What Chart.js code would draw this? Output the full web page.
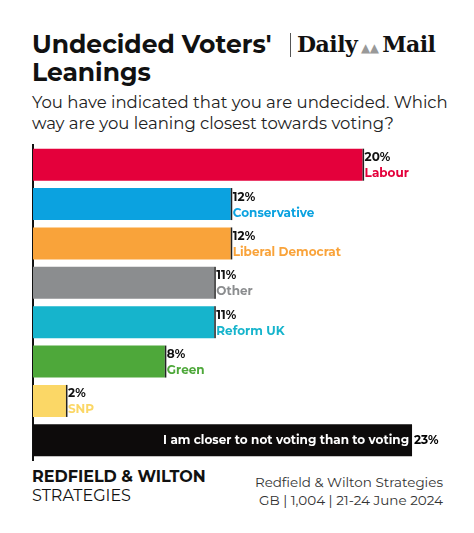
<!DOCTYPE html>
<html><head><meta charset="utf-8">
<script src="https://cdn.jsdelivr.net/npm/chart.js@4"></script>
<style>
body{margin:0;width:474px;height:533px;background:#fff;font-family:"Montserrat","Inter","Noto Sans",sans-serif;position:relative;overflow:hidden;color:#111}
.t{position:absolute;white-space:nowrap}
</style></head><body>
<div class="t" style="left:32px;top:30px;font-size:25px;font-weight:700;line-height:28px">Undecided Voters'<br>Leanings</div>
<div class="t" style="left:290px;top:33px;height:24px;border-left:1.5px solid #555"></div>
<div class="t" style="left:297px;top:31px;font-family:'DejaVu Serif',serif;font-size:22px;font-weight:700;letter-spacing:-0.5px">Daily<span style="font-size:12px;color:#999"> ▲▲ </span>Mail</div>
<div class="t" style="left:32px;top:92px;font-size:16.5px;line-height:21px;color:#222">You have indicated that you are undecided. Which<br>way are you leaning closest towards voting?</div>
<div style="position:absolute;left:0;top:140px;width:474px;height:325px"><canvas id="c"></canvas></div>
<div class="t" style="left:32px;top:467px;font-size:16px;font-weight:700;line-height:19px">REDFIELD &amp; WILTON<br><span style="font-weight:400">STRATEGIES</span></div>
<div class="t" style="right:31px;top:473px;font-size:13.5px;line-height:18px;text-align:right;color:#333">Redfield &amp; Wilton Strategies<br>GB | 1,004 | 21-24 June 2024</div>
<script>
var parties = ['Labour','Conservative','Liberal Democrat','Other','Reform UK','Green','SNP','I am closer to not voting than to voting'];
var values = [20,12,12,11,11,8,2,23];
var colors = ['#e4003b','#0ba2e0','#f9a33a','#8b8d8f','#16b4cc','#4ea83a','#fbd766','#0d0b0b'];

var labelPlugin = {
  id: 'labels',
  afterDatasetsDraw: function(chart) {
    var ctx = chart.ctx;
    var meta = chart.getDatasetMeta(0);
    meta.data.forEach(function(bar, i) {
      ctx.save();
      ctx.font = 'bold 12px "Montserrat","Inter","Noto Sans",sans-serif';
      ctx.textBaseline = 'middle';
      if (i === parties.length - 1) {
        ctx.fillStyle = '#000';
        ctx.textAlign = 'left';
        ctx.fillText(values[i] + '%', bar.x + 2, bar.y);
        ctx.fillStyle = '#fff';
        ctx.textAlign = 'right';
        ctx.fillText(parties[i], bar.x - 3, bar.y);
      } else {
        ctx.fillStyle = '#222';
        ctx.fillRect(bar.x, bar.y - 16, 1.5, 32);
        ctx.textAlign = 'left';
        ctx.fillStyle = '#111';
        ctx.fillText(values[i] + '%', bar.x + 2, bar.y - 7);
        ctx.fillStyle = colors[i];
        ctx.fillText(parties[i], bar.x + 2, bar.y + 9);
      }
      ctx.restore();
    });
  }
};

new Chart(document.getElementById('c'), {
  type: 'bar',
  data: { labels: parties, datasets: [{ data: values, backgroundColor: colors, barPercentage: 0.81, categoryPercentage: 1 }] },
  options: {
    indexAxis: 'y', responsive: true, maintainAspectRatio: false, animation: false,
    layout: { padding: { left: 25, top: 5, bottom: 5, right: 29 } },
    plugins: { legend: { display: false }, tooltip: { enabled: false } },
    scales: {
      x: { display: false, min: 0, max: 25 },
      y: { ticks: { display: false }, grid: { display: false }, border: { color: '#111', width: 2 } }
    }
  },
  plugins: [labelPlugin]
});
</script>
</body></html>
